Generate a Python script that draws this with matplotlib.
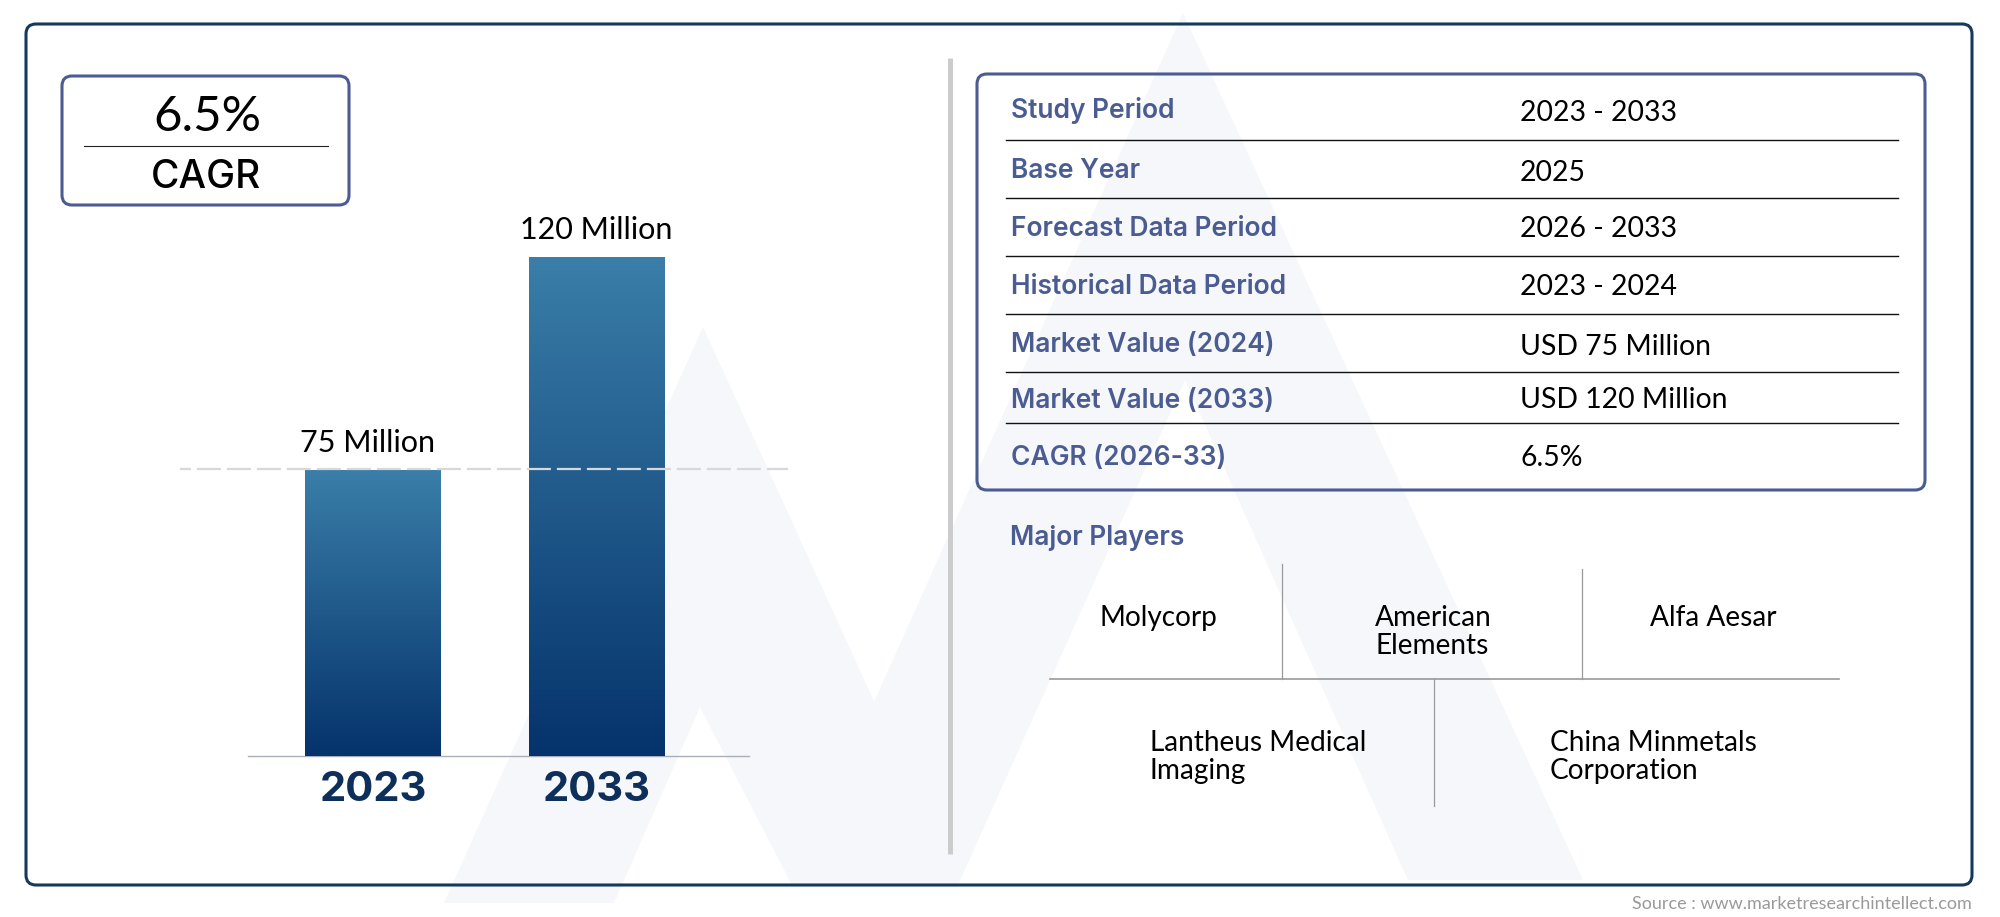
"""CAGR market summary card: two bars, a facts table and the major players."""

import matplotlib
matplotlib.use("Agg")
import matplotlib.pyplot as plt
import numpy as np
from matplotlib.colors import LinearSegmentedColormap
from matplotlib.patches import FancyBboxPatch, Polygon

years = ["2023", "2033"]
market_values = [75, 120]
value_labels = ["75 Million", "120 Million"]
axis_floor = 14.6

cagr_text = "6.5%"
cagr_title = "CAGR"

table_labels = [
    "Study Period",
    "Base Year",
    "Forecast Data Period",
    "Historical Data Period",
    "Market Value (2024)",
    "Market Value (2033)",
    "CAGR (2026-33)",
]
table_values = [
    "2023 - 2033",
    "2025",
    "2026 - 2033",
    "2023 - 2024",
    "USD 75 Million",
    "USD 120 Million",
    "6.5%",
]

players_title = "Major Players"
players = ["Molycorp", "American\nElements", "Alfa Aesar", "Lantheus Medical\nImaging", "China Minmetals\nCorporation"]
source_text = "Source : www.marketresearchintellect.com"

LABEL_FONT = "Inter"
BODY_FONT = "Lato"
NAVY = "#15395b"
SLATE = "#4a5c92"

fig = plt.figure(figsize=(20, 9.17), dpi=100)

# page layer, drawn in pixel coordinates
bg = fig.add_axes([0, 0, 1, 1])
bg.set_xlim(0, 2000)
bg.set_ylim(917, 0)
bg.axis("off")

# faint logo behind everything
left_peak = [(444, 903), (703, 327), (958, 885), (792, 885), (700, 707), (614, 903)]
big_peak = [(792, 885), (1183, 13), (1583, 880), (1408, 880), (1185, 380), (958, 885)]
for pts in (left_peak, big_peak):
    bg.add_patch(Polygon(pts, closed=True, facecolor="#f5f7fa", edgecolor="none", zorder=0))


def rounded_box(x0, y0, x1, y1, color, radius=10, lw=2.2):
    box = FancyBboxPatch((x0, y0), x1 - x0, y1 - y0, boxstyle=f"round,pad=0,rounding_size={radius}",
                         facecolor="none", edgecolor=color, linewidth=lw, zorder=2)
    bg.add_patch(box)


rounded_box(26, 24, 1972, 885, NAVY)
rounded_box(62, 76, 349, 205, SLATE)
rounded_box(977, 74, 1925, 490, SLATE)

bg.plot([950, 950], [58, 854], color="#cccccc", linewidth=3.6, solid_capstyle="butt", zorder=2)

# CAGR box
bg.text(207, 117, cagr_text, family=BODY_FONT, fontsize=35.5, ha="center", va="center", color="black")
bg.plot([84, 328], [146, 146], color="#222222", linewidth=0.8)
bg.text(206, 177, cagr_title, family=LABEL_FONT, fontsize=28, fontweight=500, ha="center", va="center", color="black")

# facts table
label_y = [111, 171, 229, 287, 345, 401, 458]
value_y = [113, 173, 229, 287, 347, 400, 458]
for label, y in zip(table_labels, label_y):
    bg.text(1011, y, label, family=LABEL_FONT, fontsize=19, fontweight=600, color=SLATE, ha="left", va="center")
for value, y in zip(table_values, value_y):
    bg.text(1520, y, value, family=BODY_FONT, fontsize=20.4, color="black", ha="left", va="center")
for y in [140, 198, 256, 314, 372, 423]:
    bg.plot([1006, 1898], [y, y], color="#111111", linewidth=1.0)

# major players grid
bg.text(1010, 538, players_title, family=LABEL_FONT, fontsize=19, fontweight=600, color=SLATE, ha="left", va="center")
bg.plot([1050, 1839], [679, 679], color="#999999", linewidth=1.2)
bg.plot([1282, 1282], [564, 679], color="#999999", linewidth=0.9)
bg.plot([1582, 1582], [569, 679], color="#999999", linewidth=0.9)
bg.plot([1434, 1434], [679, 806], color="#999999", linewidth=0.9)
player_x = [1100, 1375, 1650, 1150, 1550]
player_y = [618, 632, 618, 757, 757]
for name, x, y in zip(players, player_x, player_y):
    bg.text(x, y, name, family=BODY_FONT, fontsize=20.2, color="black", ha="left", va="center", linespacing=1.12)

bg.text(1972, 904, source_text, family=BODY_FONT, fontsize=13, color="#9a9a9a", ha="right", va="center")

# bar chart on its own axes: x span 248-749 px, y span 257-756 px
ax = fig.add_axes([248 / 2000, 1 - 756 / 917, (749 - 248) / 2000, (756 - 257) / 917])
ax.patch.set_alpha(0)
positions = np.arange(len(years))
bars = ax.bar(positions, market_values, width=0.605, color="#1d5a8c")

bar_cmap = LinearSegmentedColormap.from_list("bar_fade", ["#3a7ea9", "#05336b"])
ramp = np.linspace(0, 1, 256).reshape(-1, 1)
for bar in bars:
    x0, w, top = bar.get_x(), bar.get_width(), bar.get_height()
    img = ax.imshow(ramp, cmap=bar_cmap, aspect="auto", extent=(x0, x0 + w, axis_floor, top), origin="upper", zorder=3)
    img.set_clip_path(bar)

ax.set_xlim(-0.559, 1.682)
ax.set_ylim(axis_floor, 120)
ax.plot([-0.864, 1.856], [market_values[0] + 0.3, market_values[0] + 0.3], color="#d6d8da", linewidth=1.6,
        linestyle=(5.9, (10.8, 2.7)), clip_on=False, zorder=4)

for pos, val, text in zip(positions, market_values, value_labels):
    ax.annotate(text, (pos, val), xytext=(-5 if pos == 0 else 0, 27), textcoords="offset pixels", family=BODY_FONT,
                fontsize=22, ha="center", va="center", color="black")

ax.set_xticks(positions, years)
ax.tick_params(axis="x", length=0, pad=11, labelcolor="#0d2f5a", labelsize=30)
for tick in ax.get_xticklabels():
    tick.set_family(LABEL_FONT)
    tick.set_fontweight("bold")
ax.set_yticks([])
for side in ("top", "left", "right"):
    ax.spines[side].set_visible(False)
ax.spines["bottom"].set_color("#a9aeb8")
ax.spines["bottom"].set_linewidth(1.0)

fig.savefig("out.png", dpi=100)
plt.close(fig)
